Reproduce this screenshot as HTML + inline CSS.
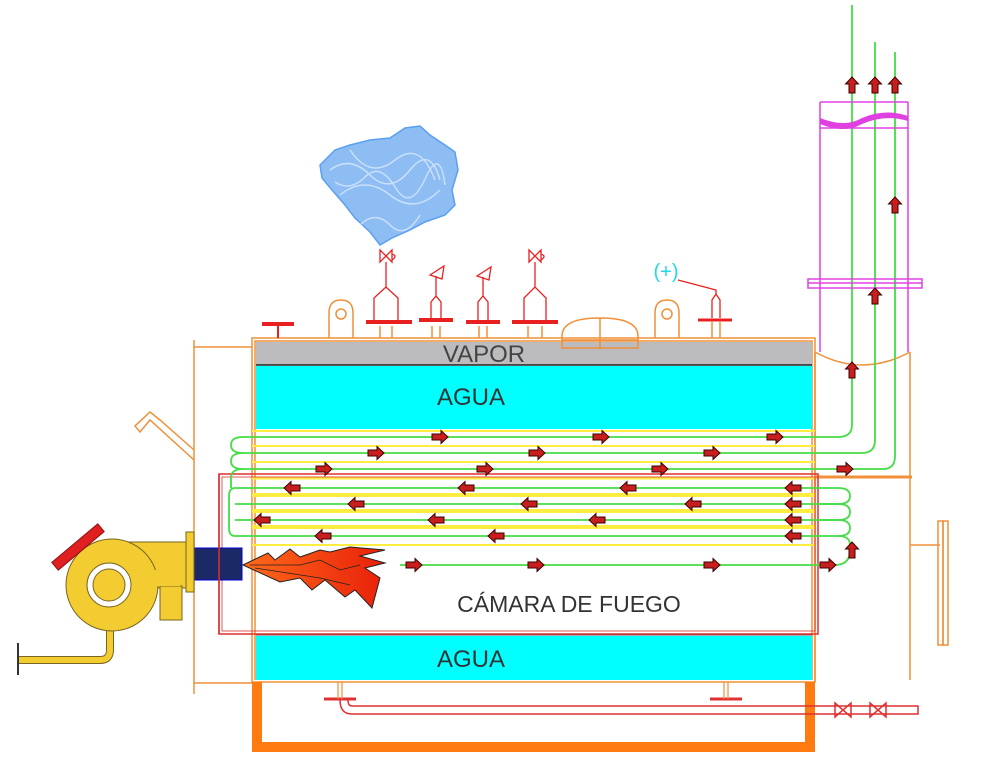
<!DOCTYPE html>
<html><head><meta charset="utf-8"><style>html,body{margin:0;padding:0;background:#fff}svg{display:block}</style></head>
<body>
<svg width="1000" height="762" viewBox="0 0 1000 762" xmlns="http://www.w3.org/2000/svg" font-family="Liberation Sans, sans-serif">
<defs>
<g id="ar"><polygon points="-8,-3 1,-3 1,-6.5 8,0 1,6.5 1,3 -8,3" fill="#c81e1e" stroke="#3a0000" stroke-width="1"/></g>
<linearGradient id="fl" x1="0" x2="1"><stop offset="0" stop-color="#ff6a1a"/><stop offset="1" stop-color="#e8200a"/></linearGradient>
</defs>

<!-- steam cloud -->
<polygon points="320,165 335,150 350,145 370,140 390,138 405,128 420,126 430,135 445,145 455,152 458,170 452,190 455,205 445,215 425,222 410,230 392,238 380,245 370,232 355,218 345,205 332,190 322,178" fill="#8dbdf3" stroke="#5b9ff0" stroke-width="1.5"/>
<path d="M330,170 q20,-15 40,5 t40,-5 t30,10 M340,195 q25,-20 50,0 t50,-5 M350,150 q20,30 45,10 t40,20 M335,182 q15,10 30,-5 t30,10 t30,-8 t20,6 M360,225 q15,-15 30,0 t30,-10" fill="none" stroke="#c9e0fb" stroke-width="1.5"/>

<!-- outer frame orange thin -->
<g fill="none" stroke="#f0903a" stroke-width="1.5">
<line x1="194" y1="340" x2="194" y2="694"/>
<line x1="194" y1="347" x2="252" y2="347"/>
<line x1="194" y1="683" x2="252" y2="683"/>
<rect x="252" y="338" width="563" height="344"/>
<rect x="255" y="341" width="557" height="338"/>
<line x1="815" y1="352" x2="815" y2="682"/>
<line x1="910" y1="352" x2="910" y2="680"/>
<path d="M815,352 Q862,378 910,352"/>
<line x1="815" y1="477" x2="912" y2="477" stroke-width="3"/>
<line x1="910" y1="545" x2="940" y2="545"/>
<rect x="938" y="521" width="5" height="124"/><rect x="943" y="521" width="5" height="124"/>
<path d="M194,460 L150,420 L140,432 L135,426 L150,412 L160,420 L194,450"/>
</g>

<!-- vapor / water -->
<rect x="256" y="342" width="556" height="23" fill="#bcbcbe"/>
<line x1="256" y1="365" x2="812" y2="365" stroke="#222" stroke-width="1.5"/>
<rect x="256" y="366" width="556" height="63" fill="#00ffff"/>
<rect x="256" y="636" width="556" height="44" fill="#00ffff"/>
<line x1="256" y1="635" x2="812" y2="635" stroke="#555" stroke-width="1"/>
<text x="484" y="362" font-size="24" fill="#444" text-anchor="middle">VAPOR</text>
<text x="471" y="405" font-size="24" fill="#333" text-anchor="middle">AGUA</text>
<text x="471" y="667" font-size="24" fill="#333" text-anchor="middle">AGUA</text>
<text x="569" y="612" font-size="23" fill="#333" text-anchor="middle">CÁMARA DE FUEGO</text>

<!-- base U -->
<path d="M252,682 H262 V742 H805 V682 H815 V752 H252 Z" fill="#ff7a10"/>

<!-- yellow tubes -->
<g stroke="#ffec40">
<line x1="252" y1="431" x2="815" y2="431" stroke-width="2"/>
<line x1="252" y1="446" x2="815" y2="446" stroke-width="2"/>
<line x1="252" y1="462" x2="815" y2="462" stroke-width="2"/>
<line x1="252" y1="478" x2="815" y2="478" stroke-width="3"/>
<line x1="252" y1="495" x2="815" y2="495" stroke-width="4"/>
<line x1="252" y1="511" x2="815" y2="511" stroke-width="4"/>
<line x1="252" y1="527" x2="815" y2="527" stroke-width="4"/>
<line x1="252" y1="545" x2="815" y2="545" stroke-width="2"/>
</g>

<!-- red chamber -->
<rect x="219" y="474" width="599" height="160" fill="none" stroke="#e03030" stroke-width="1.5"/>
<rect x="222" y="477" width="593" height="154" fill="none" stroke="#e03030" stroke-width="0.8"/>

<!-- green gas path -->
<g fill="none" stroke="#44dd44" stroke-width="1.8">
<path d="M400,565 H835 Q850,565 850,550 V545"/>
<path d="M818,488 H838 Q850,488 850,496 Q850,504 838,504 H818"/>
<path d="M818,504 H838 Q850,504 850,512 Q850,520 838,520 H818"/>
<path d="M818,520 H838 Q850,520 850,528 Q850,536 838,536 H818"/>
<path d="M838,536 Q850,536 850,545"/>
<line x1="235" y1="488" x2="818" y2="488"/>
<line x1="235" y1="504" x2="818" y2="504"/>
<line x1="235" y1="520" x2="818" y2="520"/>
<line x1="235" y1="536" x2="818" y2="536"/>
<path d="M235,488 Q229,488 229,496 V528 Q229,536 235,536"/>
<path d="M243,437 Q231,437 231,445 Q231,453 243,453 Q231,453 231,461 Q231,469 243,469 Q231,469 231,478 V488"/>
<path d="M243,437 H838 Q852,437 852,425 V100"/>
<path d="M243,453 H862 Q875,453 875,440 V42"/>
<path d="M243,469 H883 Q895,469 895,456 V52"/>
<line x1="852" y1="100" x2="852" y2="5"/>
</g>

<!-- chimney -->
<g fill="none" stroke="#e040e0" stroke-width="1.5">
<line x1="820" y1="102" x2="820" y2="352"/>
<line x1="908" y1="102" x2="908" y2="352"/>
<line x1="820" y1="102" x2="908" y2="102"/>
<line x1="820" y1="128" x2="908" y2="128"/>
<rect x="808" y="279" width="114" height="9"/>
<line x1="808" y1="283" x2="922" y2="283"/>
</g>
<path d="M820,118 Q845,128 862,118 Q885,108 908,116 L908,121 Q885,114 862,124 Q845,134 820,124 Z" fill="#e040e0"/>

<!-- arrows -->
<g>
<use href="#ar" x="440" y="437"/><use href="#ar" x="601" y="437"/><use href="#ar" x="775" y="437"/>
<use href="#ar" x="376" y="453"/><use href="#ar" x="537" y="453"/><use href="#ar" x="712" y="453"/>
<use href="#ar" x="324" y="469"/><use href="#ar" x="485" y="469"/><use href="#ar" x="660" y="469"/><use href="#ar" x="845" y="469"/>
<use href="#ar" x="414" y="565"/><use href="#ar" x="536" y="565"/><use href="#ar" x="712" y="565"/><use href="#ar" x="828" y="565"/>
</g>
<g transform="scale(-1,1)">
<use href="#ar" x="-292" y="488"/><use href="#ar" x="-466" y="488"/><use href="#ar" x="-628" y="488"/><use href="#ar" x="-793" y="488"/>
<use href="#ar" x="-356" y="504"/><use href="#ar" x="-529" y="504"/><use href="#ar" x="-693" y="504"/><use href="#ar" x="-793" y="504"/>
<use href="#ar" x="-262" y="520"/><use href="#ar" x="-436" y="520"/><use href="#ar" x="-597" y="520"/><use href="#ar" x="-793" y="520"/>
<use href="#ar" x="-323" y="536"/><use href="#ar" x="-496" y="536"/><use href="#ar" x="-793" y="536"/>
</g>
<g transform="rotate(-90)">
<use href="#ar" x="-550" y="852"/><use href="#ar" x="-370" y="852"/><use href="#ar" x="-296" y="875"/><use href="#ar" x="-205" y="895"/>
<use href="#ar" x="-85" y="852"/><use href="#ar" x="-85" y="875"/><use href="#ar" x="-85" y="895"/>
</g>

<!-- burner -->
<rect x="194" y="548" width="48" height="32" fill="#1b2a66" stroke="#0000cc"/>
<path d="M18,660 H100 Q110,660 110,650 V620" fill="none" stroke="#7a6520" stroke-width="8"/>
<path d="M18,660 H100 Q110,660 110,650 V620" fill="none" stroke="#f2cc30" stroke-width="6"/>
<line x1="18" y1="643" x2="18" y2="675" stroke="#333" stroke-width="2"/>
<rect x="112" y="542" width="76" height="46" fill="#f2cc30" stroke="#7a6520"/>
<rect x="160" y="586" width="22" height="34" fill="#f2cc30" stroke="#7a6520"/>
<rect x="186" y="532" width="8" height="60" fill="#f2cc30" stroke="#7a6520"/>
<circle cx="112" cy="585" r="46" fill="#f2cc30" stroke="#7a6520"/>
<rect x="140" y="570" width="40" height="16" fill="#f2cc30"/>
<circle cx="109" cy="585" r="22" fill="#fff" stroke="#7a6520"/>
<circle cx="109" cy="585" r="16" fill="#f2cc30" stroke="#7a6520"/>
<rect x="48" y="542" width="60" height="10" fill="#e02020" stroke="#901010" transform="rotate(-40 78 547)"/>
<line x1="219" y1="474" x2="219" y2="634" stroke="#e03030" stroke-width="1.5"/>

<!-- flame -->
<polygon points="243,565 268,553 275,560 290,549 300,557 320,550 330,552 350,547 385,550 360,556 385,563 365,568 380,578 372,608 355,590 345,597 325,580 312,590 300,578 280,582" fill="url(#fl)" stroke="#222" stroke-width="1"/>
<path d="M250,565 L300,565 L320,560 L340,570 L360,565 M255,568 L320,578 L350,585" fill="none" stroke="#222" stroke-width="0.8"/>

<!-- bottom drain piping -->
<g fill="none" stroke="#e03030" stroke-width="1.5">
<path d="M340,700 Q340,714 352,714 H918 V706 H352 Q348,706 348,700"/>
<line x1="324" y1="699" x2="356" y2="699" stroke-width="3"/>
<line x1="710" y1="699" x2="742" y2="699" stroke-width="3"/>
<polygon points="835,703 851,717 851,703 835,717"/>
<polygon points="870,703 886,717 886,703 870,717"/>
</g>
<g stroke="#f0903a" stroke-width="1.2"><line x1="338" y1="682" x2="338" y2="699"/><line x1="342" y1="682" x2="342" y2="699"/><line x1="724" y1="682" x2="724" y2="699"/><line x1="728" y1="682" x2="728" y2="699"/></g>

<!-- top fittings -->
<g fill="none" stroke="#f0903a" stroke-width="1.5">
<path d="M329,338 V313 Q329,300 341,300 Q353,300 353,313 V338"/><circle cx="341" cy="314" r="5"/>
<path d="M655,338 V313 Q655,300 667,300 Q679,300 679,313 V338"/><circle cx="667" cy="314" r="5"/>
<path d="M562,348 V336 Q562,318 600,318 Q638,318 638,336 V348 Z M562,340 H638 M600,318 V348"/>
<line x1="380" y1="338" x2="380" y2="326"/><line x1="392" y1="338" x2="392" y2="326"/>
<line x1="432" y1="338" x2="432" y2="326"/><line x1="440" y1="338" x2="440" y2="326"/>
<line x1="479" y1="338" x2="479" y2="326"/><line x1="487" y1="338" x2="487" y2="326"/>
<line x1="528" y1="338" x2="528" y2="326"/><line x1="542" y1="338" x2="542" y2="326"/>
<line x1="712" y1="338" x2="712" y2="322"/><line x1="720" y1="338" x2="720" y2="322"/>
</g>
<g fill="none" stroke="#e82020" stroke-width="1.3">
<line x1="262" y1="324" x2="294" y2="324" stroke-width="4"/><line x1="278" y1="324" x2="278" y2="338" stroke-width="2"/>
<line x1="366" y1="322" x2="412" y2="322" stroke-width="4"/>
<path d="M374,320 V298 L386,287 L398,298 V320 M386,287 V262 M380,250 L392,262 L392,250 L380,262 Z M392,254 Q398,256 392,260"/>
<line x1="419" y1="320" x2="453" y2="320" stroke-width="4"/>
<path d="M431,318 V302 L436,296 L441,302 V318 M436,296 V276 M430,275 L444,266 L442,279 Z"/>
<line x1="466" y1="322" x2="500" y2="322" stroke-width="4"/>
<path d="M478,320 V302 L483,296 L488,302 V320 M483,296 V277 M477,276 L491,267 L489,280 Z"/>
<line x1="512" y1="322" x2="558" y2="322" stroke-width="4"/>
<path d="M524,320 V298 L535,287 L546,298 V320 M535,287 V262 M529,250 L541,262 L541,250 L529,262 Z M541,254 Q547,256 541,260"/>
<line x1="698" y1="320" x2="732" y2="320" stroke-width="3"/>
<path d="M712,318 V300 L716,294 L720,300 V318 M716,294 V290 L678,280"/>
</g>
<text x="666" y="278" font-size="20" fill="#22d8e8" text-anchor="middle">(+)</text>
</svg>
</body></html>
